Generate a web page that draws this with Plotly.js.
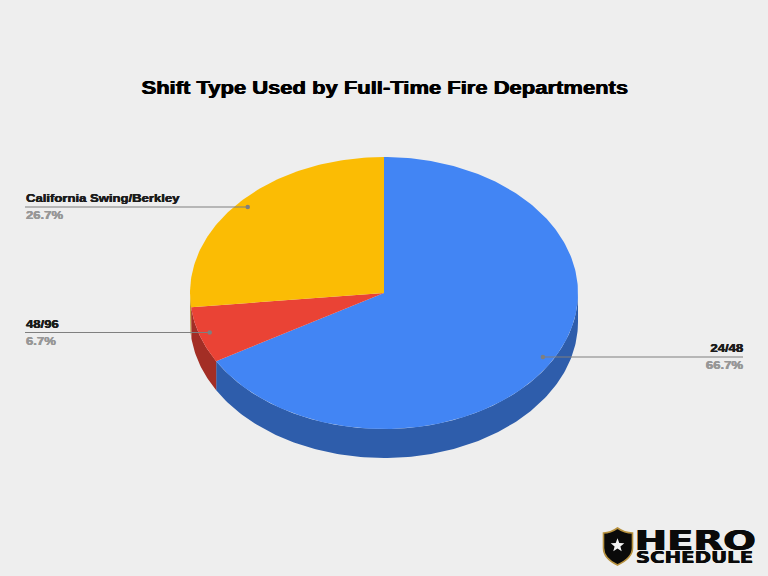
<!DOCTYPE html>
<html>
<head>
<meta charset="utf-8">
<script src="https://cdn.plot.ly/plotly-3.0.1.min.js"></script>
<style>html,body{margin:0;padding:0;background:#eeeeee;overflow:hidden}#chart{width:768px;height:576px}</style>
</head>
<body>
<div id="chart"></div>
<script>
const categories = ["24/48", "48/96", "California Swing/Berkley"];
const shares = [66.7, 6.7, 26.7];
const shareLabels = ["66.7%", "6.7%", "26.7%"];
const topColors = ["#4285f4", "#ea4335", "#fbbc04"];
const sideColors = ["#2e5dab", "#a32e25", "#b08403"];
const chartTitle = "Shift Type Used by Full-Time Fire Departments";

// Pie geometry
const cx = 384, cy = 293, rx = 194, ry = 136, depth = 29, pointer = 0.945;
const labelRow = {"24/48": {y: 357, x0: 743, tx: 744.5, anchor: "right"},
                  "48/96": {y: 332.5, x0: 25, tx: 24.5, anchor: "left"},
                  "California Swing/Berkley": {y: 207, x0: 25, tx: 24.5, anchor: "left"}};

const total = shares.reduce((a, b) => a + b, 0);
const px = (t, f = 1) => cx + rx * f * Math.sin(t * Math.PI / 180);
const py = (t, f = 1, dz = 0) => cy - ry * f * Math.cos(t * Math.PI / 180) + dz;
function range(a, b) { const o = []; const n = Math.max(2, Math.ceil((b - a) / 1)); for (let i = 0; i <= n; i++) o.push(a + (b - a) * i / n); return o; }

const sides = [], tops = [], leaders = [];
const annotations = [], stretch = [];
function addText(a, f) { annotations.push(Object.assign({xref: "x", yref: "y", showarrow: false, borderpad: 0}, a)); stretch.push({f: f, anchor: a.xanchor}); }

let start = 0;
categories.forEach((c, i) => {
  const end = start + shares[i] / total * 360;
  const a = Math.max(start, 90), b = Math.min(end, 270);
  if (b > a) {
    const arc = range(a, b);
    const back = arc.slice().reverse();
    sides.push({x: arc.map(t => px(t)).concat(back.map(t => px(t))),
                y: arc.map(t => py(t)).concat(back.map(t => py(t, 1, depth))),
                fill: "toself", fillcolor: sideColors[i], mode: "lines", line: {width: 0},
                hoverinfo: "skip", showlegend: false});
  }
  const arc = range(start, end);
  tops.push({x: [cx].concat(arc.map(t => px(t)), [cx]),
             y: [cy].concat(arc.map(t => py(t)), [cy]),
             fill: "toself", fillcolor: topColors[i], mode: "lines", line: {width: 0},
             hoverinfo: "skip", showlegend: false, name: c});
  const mid = (start + end) / 2, row = labelRow[c];
  const ex = px(mid, pointer);
  leaders.push({x: [row.x0, ex], y: [row.y, row.y], mode: "lines", line: {color: "#7f7f7f", width: 1.2},
                hoverinfo: "skip", showlegend: false});
  leaders.push({x: [ex], y: [row.y], mode: "markers", marker: {color: "#7f7f7f", size: 4.5},
                hoverinfo: "skip", showlegend: false});
  addText({x: row.tx, y: row.y - 2, xanchor: row.anchor, yanchor: "bottom", text: c,
    font: {family: "Liberation Sans", size: 11.7, weight: 700, color: "#1c1c1c", shadow: "0.3px 0 0 #1c1c1c, -0.3px 0 0 #1c1c1c"}}, 1.12);
  addText({x: row.tx, y: row.y, xanchor: row.anchor, yanchor: "top", text: shareLabels[i],
    font: {family: "Liberation Sans", size: 11.7, weight: 700, color: "#979797", shadow: "0.3px 0 0 #979797, -0.3px 0 0 #979797"}}, 1.12);
  start = end;
});

addText({x: 384.5, y: 87, xanchor: "center", yanchor: "middle", text: chartTitle,
  font: {family: "Liberation Sans", size: 18.7, weight: 700, color: "#000000", shadow: "0.45px 0 0 #000, -0.45px 0 0 #000"}}, 1.176);

// Logo wordmark
addText({x: 695.5, y: 540, xanchor: "center", yanchor: "middle", text: "HERO",
  font: {family: "DejaVu Sans", size: 27, weight: 700, color: "#0a0a0a", shadow: "0.6px 0 0 #0a0a0a, -0.6px 0 0 #0a0a0a"}}, 1.43);
addText({x: 694.5, y: 557.5, xanchor: "center", yanchor: "middle", text: "SCHEDULE",
  font: {family: "DejaVu Sans", size: 15, weight: 700, color: "#0a0a0a", shadow: "0.3px 0 0 #0a0a0a, -0.3px 0 0 #0a0a0a"}}, 1.32);

const shield = "M603.5,533 C608,533 612,532 617.5,528 C623,532 628,533 632.5,533 L632.5,548 C632.5,556 626,561 617.5,565 C609,561 603.5,556 603.5,548 Z";
const star = [];
for (let k = 0; k < 10; k++) { const r = k % 2 ? 3 : 7.2, t = k * 36 * Math.PI / 180; star.push((k ? "L" : "M") + (617.5 + r * Math.sin(t)).toFixed(1) + "," + (545.5 - r * Math.cos(t)).toFixed(1)); }

const layout = {
  width: 768, height: 576, margin: {l: 0, r: 0, t: 0, b: 0},
  paper_bgcolor: "#eeeeee", plot_bgcolor: "#eeeeee", showlegend: false,
  xaxis: {range: [0, 768], visible: false, fixedrange: true},
  yaxis: {range: [576, 0], visible: false, fixedrange: true},
  annotations,
  shapes: [
    {type: "path", path: shield, fillcolor: "#0a0a0a", line: {color: "#b8923f", width: 1.6}},
    {type: "path", path: star.join(" ") + " Z", fillcolor: "#f4f4f4", line: {width: 0}}
  ]
};
Plotly.newPlot("chart", sides.concat(tops, leaders), layout, {displayModeBar: false, staticPlot: true}).then(gd => {
  // The reference's typeface is wider than any installed one: widen each text about its anchor.
  gd.querySelectorAll(".annotation-text").forEach((el, i) => {
    const s = stretch[i], b = el.getBBox();
    const ox = s.anchor === "left" ? b.x : s.anchor === "right" ? b.x + b.width : b.x + b.width / 2;
    const prev = el.getAttribute("transform") || "";
    el.setAttribute("transform", `translate(${ox},0) scale(${s.f},1) translate(${-ox},0) ${prev}`);
  });
});
</script>
</body>
</html>
